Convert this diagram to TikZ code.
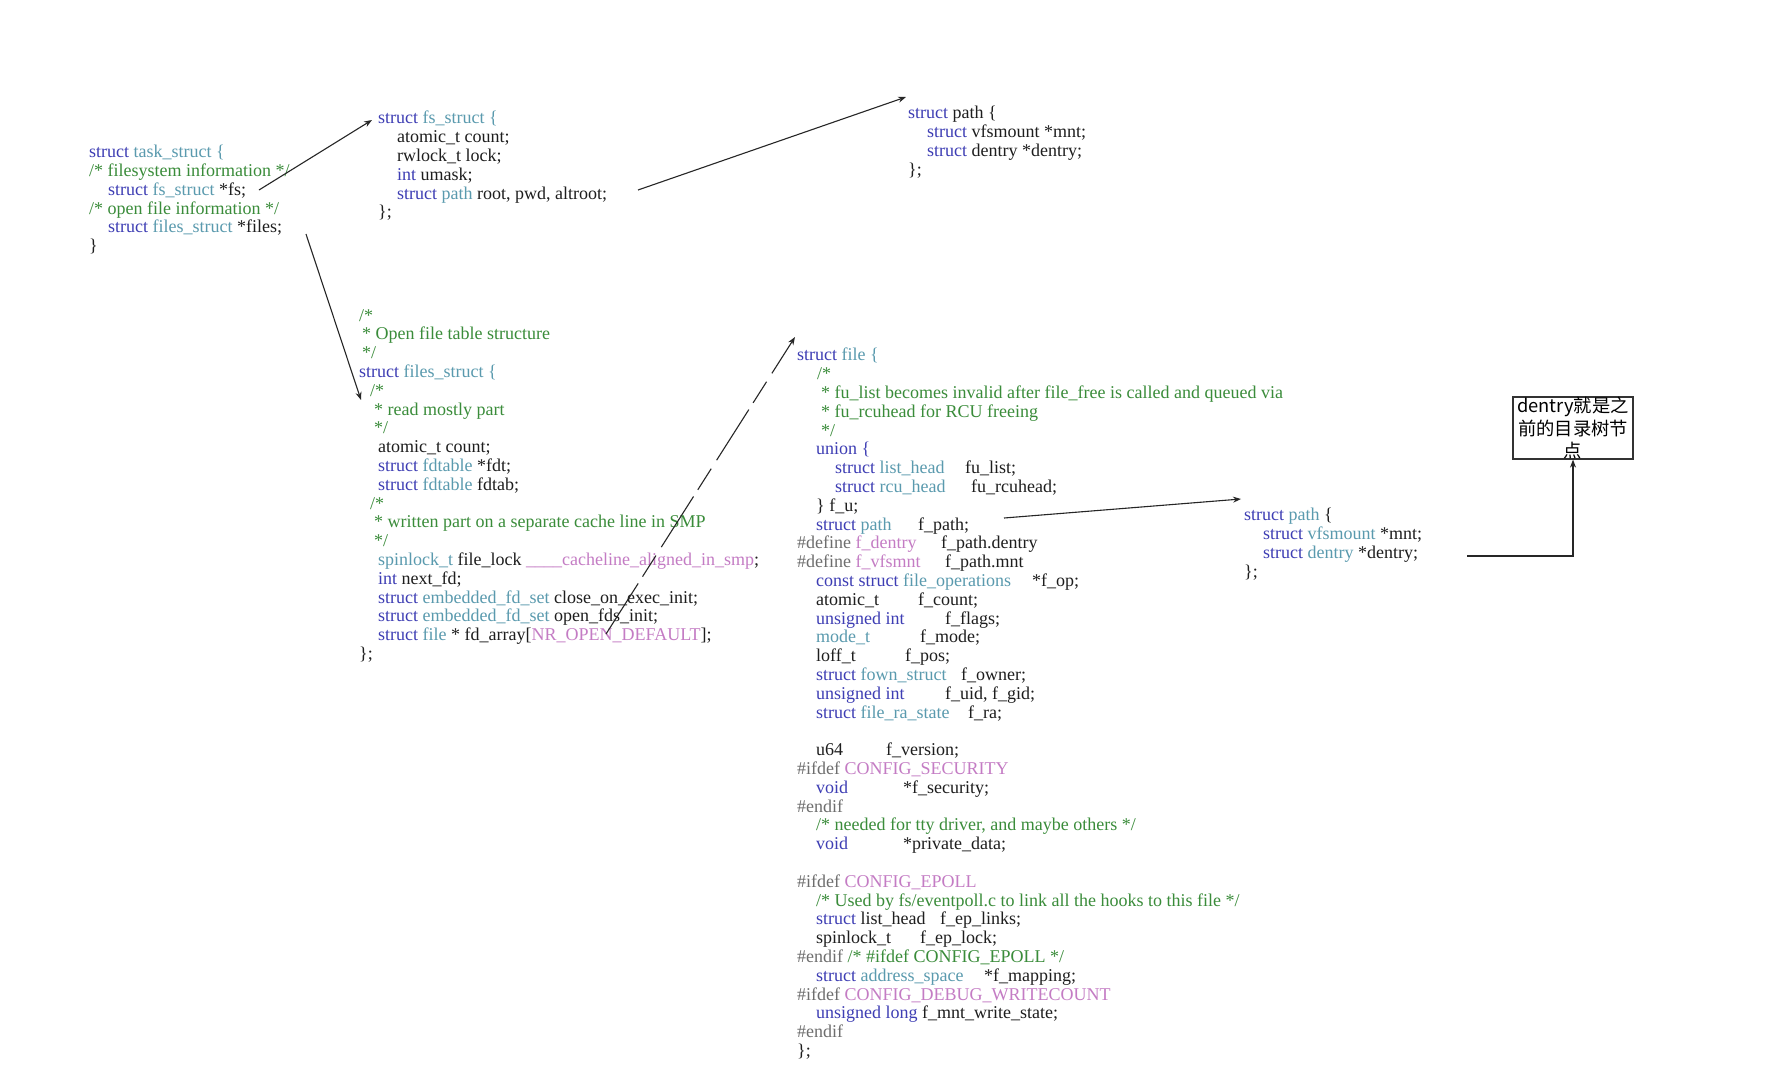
\documentclass[tikz,border=0pt]{standalone}
\usepackage{fontspec}
\setmainfont{Liberation Serif}
\newfontfamily\cjkfont{Noto Sans CJK SC}
\usetikzlibrary{arrows.meta}
\definecolor{srckw}{HTML}{3E3EB4}
\definecolor{srctype}{HTML}{5A9AAE}
\definecolor{srccmt}{HTML}{3A8C3A}
\definecolor{srcmacro}{HTML}{C47CC4}
\definecolor{srcpp}{HTML}{6E6E6E}
\definecolor{srctext}{HTML}{1E1E1E}
\newcommand{\kwd}[1]{\textcolor{srckw}{#1}}
\newcommand{\typ}[1]{\textcolor{srctype}{#1}}
\newcommand{\cmt}[1]{\textcolor{srccmt}{#1}}
\newcommand{\mcr}[1]{\textcolor{srcmacro}{#1}}
\newcommand{\ppd}[1]{\textcolor{srcpp}{#1}}
\newcommand{\ind}[1]{\hspace*{#1}}
\newcommand{\fld}[3]{\makebox[#1][l]{#2}#3}
\tikzset{
  code/.style={anchor=north west,inner sep=0pt,align=left,text=srctext,
    font=\fontsize{18}{18.8}\selectfont},
  ptr/.style={draw=black!85,line width=1.1pt,-{Stealth[length=8pt,width=6pt]}},
  note/.style={draw=black!80,line width=1.3pt,inner sep=0pt,align=center,
    minimum width=120pt,minimum height=61pt,
    font=\cjkfont\fontsize{18.3}{22.5}\selectfont}
}

\begin{document}
\begin{tikzpicture}[x=1pt,y=-1pt]
\path[use as bounding box,fill=white] (0,0) rectangle (1769,1069);
\node[code] (task) at (89,145) {\kwd{struct} \typ{task\_struct \{}\\
\cmt{/* filesystem information */}\\
\ind{19pt}\kwd{struct} \typ{fs\_struct} *fs;\\
\cmt{/* open file information */}\\
\ind{19pt}\kwd{struct} \typ{files\_struct} *files;\\
\}};
\node[code] (fs) at (378,111) {\kwd{struct} \typ{fs\_struct \{}\\
\ind{19pt}atomic\_t count;\\
\ind{19pt}rwlock\_t lock;\\
\ind{19pt}\kwd{int} umask;\\
\ind{19pt}\kwd{struct} \typ{path} root, pwd, altroot;\\
\};};
\node[code] (pathtop) at (908,106) {\kwd{struct} path \{\\
\ind{19pt}\kwd{struct} vfsmount *mnt;\\
\ind{19pt}\kwd{struct} dentry *dentry;\\
\};};
\node[code] (files) at (359,309) {\cmt{/*}\\
\ind{3pt}\cmt{* Open file table structure}\\
\ind{3pt}\cmt{*/}\\
\kwd{struct} \typ{files\_struct \{}\\
\ind{11pt}\cmt{/*}\\
\ind{15pt}\cmt{* read mostly part}\\
\ind{15pt}\cmt{*/}\\
\ind{19pt}atomic\_t count;\\
\ind{19pt}\kwd{struct} \typ{fdtable} *fdt;\\
\ind{19pt}\kwd{struct} \typ{fdtable} fdtab;\\
\ind{11pt}\cmt{/*}\\
\ind{15pt}\cmt{* written part on a separate cache line in SMP}\\
\ind{15pt}\cmt{*/}\\
\ind{19pt}\typ{spinlock\_t} file\_lock \mcr{\_\_\_\_cacheline\_aligned\_in\_smp};\\
\ind{19pt}\kwd{int} next\_fd;\\
\ind{19pt}\kwd{struct} \typ{embedded\_fd\_set} close\_on\_exec\_init;\\
\ind{19pt}\kwd{struct} \typ{embedded\_fd\_set} open\_fds\_init;\\
\ind{19pt}\kwd{struct} \typ{file} * fd\_array[\mcr{NR\_OPEN\_DEFAULT}];\\
\};};
\node[code] (file) at (797,348) {\kwd{struct} \typ{file \{}\\
\ind{20pt}\cmt{/*}\\
\ind{24pt}\cmt{* fu\_list becomes invalid after file\_free is called and queued via}\\
\ind{24pt}\cmt{* fu\_rcuhead for RCU freeing}\\
\ind{24pt}\cmt{*/}\\
\ind{19pt}\kwd{union \{}\\
\ind{38pt}\fld{130pt}{\kwd{struct} \typ{list\_head}}{fu\_list;}\\
\ind{38pt}\fld{136pt}{\kwd{struct} \typ{rcu\_head}}{fu\_rcuhead;}\\
\ind{19pt}\} f\_u;\\
\ind{19pt}\fld{102pt}{\kwd{struct} \typ{path}}{f\_path;}\\
\fld{144pt}{\ppd{\#define} \mcr{f\_dentry}}{f\_path.dentry}\\
\fld{148pt}{\ppd{\#define} \mcr{f\_vfsmnt}}{f\_path.mnt}\\
\ind{19pt}\fld{216pt}{\kwd{const struct} \typ{file\_operations}}{*f\_op;}\\
\ind{19pt}\fld{102pt}{atomic\_t}{f\_count;}\\
\ind{19pt}\fld{129pt}{\kwd{unsigned int}}{f\_flags;}\\
\ind{19pt}\fld{104pt}{\typ{mode\_t}}{f\_mode;}\\
\ind{19pt}\fld{89pt}{loff\_t}{f\_pos;}\\
\ind{19pt}\fld{145pt}{\kwd{struct} \typ{fown\_struct}}{f\_owner;}\\
\ind{19pt}\fld{129pt}{\kwd{unsigned int}}{f\_uid, f\_gid;}\\
\ind{19pt}\fld{152pt}{\kwd{struct} \typ{file\_ra\_state}}{f\_ra;}\\
\mbox{}\\
\ind{19pt}\fld{70pt}{u64}{f\_version;}\\
\ppd{\#ifdef} \mcr{CONFIG\_SECURITY}\\
\ind{19pt}\fld{87pt}{\kwd{void}}{*f\_security;}\\
\ppd{\#endif}\\
\ind{19pt}\cmt{/* needed for tty driver, and maybe others */}\\
\ind{19pt}\fld{87pt}{\kwd{void}}{*private\_data;}\\
\mbox{}\\
\ppd{\#ifdef} \mcr{CONFIG\_EPOLL}\\
\ind{19pt}\cmt{/* Used by fs/eventpoll.c to link all the hooks to this file */}\\
\ind{19pt}\fld{124pt}{\kwd{struct} list\_head}{f\_ep\_links;}\\
\ind{19pt}\fld{104pt}{spinlock\_t}{f\_ep\_lock;}\\
\ppd{\#endif} \cmt{/* \#ifdef CONFIG\_EPOLL */}\\
\ind{19pt}\fld{168pt}{\kwd{struct} \typ{address\_space}}{*f\_mapping;}\\
\ppd{\#ifdef} \mcr{CONFIG\_DEBUG\_WRITECOUNT}\\
\ind{19pt}\kwd{unsigned long} f\_mnt\_write\_state;\\
\ppd{\#endif}\\
\};};
\node[code] (pathright) at (1244,508) {\kwd{struct} \typ{path} \{\\
\ind{19pt}\kwd{struct} \typ{vfsmount} *mnt;\\
\ind{19pt}\kwd{struct} \typ{dentry} *dentry;\\
\};};
\node[note] (dentry) at (1573,428) {dentry就是之\\前的目录树节\\点};
\coordinate (fsptr) at (259,190);
\coordinate (fsin) at (372,120);
\coordinate (filesptr) at (306,234);
\coordinate (filesin) at (361,400);
\coordinate (rootptr) at (638,190);
\coordinate (pathin) at (906,97);
\coordinate (fdptr) at (606,634);
\coordinate (filein) at (795,337);
\coordinate (fpathptr) at (1004,518);
\coordinate (pathrin) at (1241,499);
\coordinate (dentryptr) at (1467,556);
\draw[ptr] (fsptr) -- (fsin);
\draw[ptr] (filesptr) -- (filesin);
\draw[ptr] (rootptr) -- (pathin);
\draw[ptr,dash pattern=on 60pt off 8pt on 25pt off 10pt] (fdptr) -- (filein);
\draw[ptr] (fpathptr) -- (pathrin);
\draw[ptr] (dentryptr) -| (dentry.south);
\end{tikzpicture}
\end{document}
